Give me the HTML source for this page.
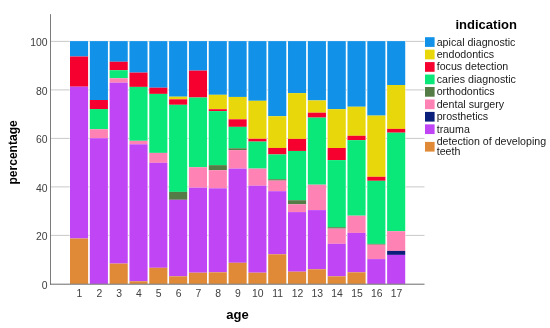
<!DOCTYPE html>
<html><head><meta charset="utf-8"><title>chart</title>
<style>
html,body{margin:0;padding:0;background:#fff;}
body{width:550px;height:328px;overflow:hidden;}
svg{display:block;font-family:"Liberation Sans",sans-serif;}
</style></head><body>
<svg width="550" height="328" viewBox="0 0 550 328">
<rect width="550" height="328" fill="#fff"/>
<line x1="50.5" x2="424.5" y1="41.40" y2="41.40" stroke="#c9c9c9" stroke-width="1"/>
<line x1="50.5" x2="424.5" y1="89.90" y2="89.90" stroke="#c9c9c9" stroke-width="1"/>
<line x1="50.5" x2="424.5" y1="138.40" y2="138.40" stroke="#c9c9c9" stroke-width="1"/>
<line x1="50.5" x2="424.5" y1="186.90" y2="186.90" stroke="#c9c9c9" stroke-width="1"/>
<line x1="50.5" x2="424.5" y1="235.40" y2="235.40" stroke="#c9c9c9" stroke-width="1"/>
<rect x="69.65" y="40.60" width="18.80" height="243.30" fill="#fff"/><rect x="70.00" y="41.10" width="18.1" height="15.40" fill="#1192E8"/><rect x="70.00" y="56.50" width="18.1" height="30.20" fill="#F5002F"/><rect x="70.00" y="86.70" width="18.1" height="151.80" fill="#C046F5"/><rect x="70.00" y="238.50" width="18.1" height="45.40" fill="#E08A38"/>
<rect x="89.47" y="40.60" width="18.80" height="243.30" fill="#fff"/><rect x="89.82" y="41.10" width="18.1" height="58.90" fill="#1192E8"/><rect x="89.82" y="100.00" width="18.1" height="9.05" fill="#F5002F"/><rect x="89.82" y="109.05" width="18.1" height="20.15" fill="#0AE87A"/><rect x="89.82" y="129.20" width="18.1" height="9.00" fill="#FF82B4"/><rect x="89.82" y="138.20" width="18.1" height="145.70" fill="#C046F5"/>
<rect x="109.29" y="40.60" width="18.80" height="243.30" fill="#fff"/><rect x="109.64" y="41.10" width="18.1" height="20.65" fill="#1192E8"/><rect x="109.64" y="61.75" width="18.1" height="8.45" fill="#F5002F"/><rect x="109.64" y="70.20" width="18.1" height="8.05" fill="#0AE87A"/><rect x="109.64" y="78.25" width="18.1" height="4.45" fill="#FF82B4"/><rect x="109.64" y="82.70" width="18.1" height="180.90" fill="#C046F5"/><rect x="109.64" y="263.60" width="18.1" height="20.30" fill="#E08A38"/>
<rect x="129.11" y="40.60" width="18.80" height="243.30" fill="#fff"/><rect x="129.46" y="41.10" width="18.1" height="31.50" fill="#1192E8"/><rect x="129.46" y="72.60" width="18.1" height="14.30" fill="#F5002F"/><rect x="129.46" y="86.90" width="18.1" height="53.90" fill="#0AE87A"/><rect x="129.46" y="140.80" width="18.1" height="3.50" fill="#FF82B4"/><rect x="129.46" y="144.30" width="18.1" height="137.00" fill="#C046F5"/><rect x="129.46" y="281.30" width="18.1" height="2.60" fill="#E08A38"/>
<rect x="148.93" y="40.60" width="18.80" height="243.30" fill="#fff"/><rect x="149.28" y="41.10" width="18.1" height="46.60" fill="#1192E8"/><rect x="149.28" y="87.70" width="18.1" height="6.20" fill="#F5002F"/><rect x="149.28" y="93.90" width="18.1" height="59.00" fill="#0AE87A"/><rect x="149.28" y="152.90" width="18.1" height="9.90" fill="#FF82B4"/><rect x="149.28" y="162.80" width="18.1" height="105.00" fill="#C046F5"/><rect x="149.28" y="267.80" width="18.1" height="16.10" fill="#E08A38"/>
<rect x="168.75" y="40.60" width="18.80" height="243.30" fill="#fff"/><rect x="169.10" y="41.10" width="18.1" height="55.60" fill="#1192E8"/><rect x="169.10" y="96.70" width="18.1" height="2.60" fill="#E8D70A"/><rect x="169.10" y="99.30" width="18.1" height="5.50" fill="#F5002F"/><rect x="169.10" y="104.80" width="18.1" height="87.10" fill="#0AE87A"/><rect x="169.10" y="191.90" width="18.1" height="7.90" fill="#557B47"/><rect x="169.10" y="199.80" width="18.1" height="76.50" fill="#C046F5"/><rect x="169.10" y="276.30" width="18.1" height="7.60" fill="#E08A38"/>
<rect x="188.57" y="40.60" width="18.80" height="243.30" fill="#fff"/><rect x="188.92" y="41.10" width="18.1" height="29.50" fill="#1192E8"/><rect x="188.92" y="70.60" width="18.1" height="26.90" fill="#F5002F"/><rect x="188.92" y="97.50" width="18.1" height="69.70" fill="#0AE87A"/><rect x="188.92" y="167.20" width="18.1" height="20.50" fill="#FF82B4"/><rect x="188.92" y="187.70" width="18.1" height="85.00" fill="#C046F5"/><rect x="188.92" y="272.70" width="18.1" height="11.20" fill="#E08A38"/>
<rect x="208.39" y="40.60" width="18.80" height="243.30" fill="#fff"/><rect x="208.74" y="41.10" width="18.1" height="53.70" fill="#1192E8"/><rect x="208.74" y="94.80" width="18.1" height="14.40" fill="#E8D70A"/><rect x="208.74" y="109.20" width="18.1" height="1.90" fill="#F5002F"/><rect x="208.74" y="111.10" width="18.1" height="54.05" fill="#0AE87A"/><rect x="208.74" y="165.15" width="18.1" height="5.05" fill="#557B47"/><rect x="208.74" y="170.20" width="18.1" height="18.10" fill="#FF82B4"/><rect x="208.74" y="188.30" width="18.1" height="84.00" fill="#C046F5"/><rect x="208.74" y="272.30" width="18.1" height="11.60" fill="#E08A38"/>
<rect x="228.21" y="40.60" width="18.80" height="243.30" fill="#fff"/><rect x="228.56" y="41.10" width="18.1" height="55.85" fill="#1192E8"/><rect x="228.56" y="96.95" width="18.1" height="22.35" fill="#E8D70A"/><rect x="228.56" y="119.30" width="18.1" height="7.55" fill="#F5002F"/><rect x="228.56" y="126.85" width="18.1" height="21.45" fill="#0AE87A"/><rect x="228.56" y="148.30" width="18.1" height="1.80" fill="#557B47"/><rect x="228.56" y="150.10" width="18.1" height="18.50" fill="#FF82B4"/><rect x="228.56" y="168.60" width="18.1" height="94.20" fill="#C046F5"/><rect x="228.56" y="262.80" width="18.1" height="21.10" fill="#E08A38"/>
<rect x="248.03" y="40.60" width="18.80" height="243.30" fill="#fff"/><rect x="248.38" y="41.10" width="18.1" height="59.70" fill="#1192E8"/><rect x="248.38" y="100.80" width="18.1" height="38.00" fill="#E8D70A"/><rect x="248.38" y="138.80" width="18.1" height="2.80" fill="#F5002F"/><rect x="248.38" y="141.60" width="18.1" height="27.00" fill="#0AE87A"/><rect x="248.38" y="168.60" width="18.1" height="17.10" fill="#FF82B4"/><rect x="248.38" y="185.70" width="18.1" height="87.00" fill="#C046F5"/><rect x="248.38" y="272.70" width="18.1" height="11.20" fill="#E08A38"/>
<rect x="267.85" y="40.60" width="18.80" height="243.30" fill="#fff"/><rect x="268.20" y="41.10" width="18.1" height="75.10" fill="#1192E8"/><rect x="268.20" y="116.20" width="18.1" height="31.75" fill="#E8D70A"/><rect x="268.20" y="147.95" width="18.1" height="6.50" fill="#F5002F"/><rect x="268.20" y="154.45" width="18.1" height="24.75" fill="#0AE87A"/><rect x="268.20" y="179.20" width="18.1" height="1.40" fill="#557B47"/><rect x="268.20" y="180.60" width="18.1" height="10.60" fill="#FF82B4"/><rect x="268.20" y="191.20" width="18.1" height="63.10" fill="#C046F5"/><rect x="268.20" y="254.30" width="18.1" height="29.60" fill="#E08A38"/>
<rect x="287.67" y="40.60" width="18.80" height="243.30" fill="#fff"/><rect x="288.02" y="41.10" width="18.1" height="52.00" fill="#1192E8"/><rect x="288.02" y="93.10" width="18.1" height="45.80" fill="#E8D70A"/><rect x="288.02" y="138.90" width="18.1" height="12.05" fill="#F5002F"/><rect x="288.02" y="150.95" width="18.1" height="49.25" fill="#0AE87A"/><rect x="288.02" y="200.20" width="18.1" height="4.10" fill="#557B47"/><rect x="288.02" y="204.30" width="18.1" height="7.80" fill="#FF82B4"/><rect x="288.02" y="212.10" width="18.1" height="59.60" fill="#C046F5"/><rect x="288.02" y="271.70" width="18.1" height="12.20" fill="#E08A38"/>
<rect x="307.49" y="40.60" width="18.80" height="243.30" fill="#fff"/><rect x="307.84" y="41.10" width="18.1" height="59.35" fill="#1192E8"/><rect x="307.84" y="100.45" width="18.1" height="12.25" fill="#E8D70A"/><rect x="307.84" y="112.70" width="18.1" height="4.90" fill="#F5002F"/><rect x="307.84" y="117.60" width="18.1" height="67.10" fill="#0AE87A"/><rect x="307.84" y="184.70" width="18.1" height="25.40" fill="#FF82B4"/><rect x="307.84" y="210.10" width="18.1" height="59.15" fill="#C046F5"/><rect x="307.84" y="269.25" width="18.1" height="14.65" fill="#E08A38"/>
<rect x="327.31" y="40.60" width="18.80" height="243.30" fill="#fff"/><rect x="327.66" y="41.10" width="18.1" height="68.05" fill="#1192E8"/><rect x="327.66" y="109.15" width="18.1" height="38.85" fill="#E8D70A"/><rect x="327.66" y="148.00" width="18.1" height="12.10" fill="#F5002F"/><rect x="327.66" y="160.10" width="18.1" height="67.10" fill="#0AE87A"/><rect x="327.66" y="227.20" width="18.1" height="1.40" fill="#557B47"/><rect x="327.66" y="228.60" width="18.1" height="15.20" fill="#FF82B4"/><rect x="327.66" y="243.80" width="18.1" height="32.50" fill="#C046F5"/><rect x="327.66" y="276.30" width="18.1" height="7.60" fill="#E08A38"/>
<rect x="347.13" y="40.60" width="18.80" height="243.30" fill="#fff"/><rect x="347.48" y="41.10" width="18.1" height="65.65" fill="#1192E8"/><rect x="347.48" y="106.75" width="18.1" height="29.05" fill="#E8D70A"/><rect x="347.48" y="135.80" width="18.1" height="4.35" fill="#F5002F"/><rect x="347.48" y="140.15" width="18.1" height="75.55" fill="#0AE87A"/><rect x="347.48" y="215.70" width="18.1" height="17.20" fill="#FF82B4"/><rect x="347.48" y="232.90" width="18.1" height="39.40" fill="#C046F5"/><rect x="347.48" y="272.30" width="18.1" height="11.60" fill="#E08A38"/>
<rect x="366.95" y="40.60" width="18.80" height="243.30" fill="#fff"/><rect x="367.30" y="41.10" width="18.1" height="74.50" fill="#1192E8"/><rect x="367.30" y="115.60" width="18.1" height="61.20" fill="#E8D70A"/><rect x="367.30" y="176.80" width="18.1" height="4.00" fill="#F5002F"/><rect x="367.30" y="180.80" width="18.1" height="63.10" fill="#0AE87A"/><rect x="367.30" y="243.90" width="18.1" height="0.80" fill="#557B47"/><rect x="367.30" y="244.70" width="18.1" height="14.40" fill="#FF82B4"/><rect x="367.30" y="259.10" width="18.1" height="24.80" fill="#C046F5"/>
<rect x="386.77" y="40.60" width="18.80" height="243.30" fill="#fff"/><rect x="387.12" y="41.10" width="18.1" height="43.90" fill="#1192E8"/><rect x="387.12" y="85.00" width="18.1" height="43.90" fill="#E8D70A"/><rect x="387.12" y="128.90" width="18.1" height="3.80" fill="#F5002F"/><rect x="387.12" y="132.70" width="18.1" height="98.50" fill="#0AE87A"/><rect x="387.12" y="231.20" width="18.1" height="19.70" fill="#FF82B4"/><rect x="387.12" y="250.90" width="18.1" height="4.00" fill="#0A1F7A"/><rect x="387.12" y="254.90" width="18.1" height="29.00" fill="#C046F5"/>
<line x1="50.5" x2="50.5" y1="14.2" y2="284.59999999999997" stroke="#7a7a7a" stroke-width="1"/>
<line x1="50.0" x2="424.5" y1="284.2" y2="284.2" stroke="#6a6a6a" stroke-width="1"/>
<g font-size="10.4" fill="#404040" text-anchor="end">
<text x="47.5" y="46.15">100</text><text x="47.5" y="94.65">80</text><text x="47.5" y="143.15">60</text><text x="47.5" y="191.65">40</text><text x="47.5" y="240.15">20</text><text x="47.5" y="288.65">0</text>
</g>
<g font-size="10.4" fill="#404040" text-anchor="middle">
<text x="79.45" y="297.25">1</text><text x="99.27" y="297.25">2</text><text x="119.09" y="297.25">3</text><text x="138.91" y="297.25">4</text><text x="158.73" y="297.25">5</text><text x="178.55" y="297.25">6</text><text x="198.37" y="297.25">7</text><text x="218.19" y="297.25">8</text><text x="238.01" y="297.25">9</text><text x="257.83" y="297.25">10</text><text x="277.65" y="297.25">11</text><text x="297.47" y="297.25">12</text><text x="317.29" y="297.25">13</text><text x="337.11" y="297.25">14</text><text x="356.93" y="297.25">15</text><text x="376.75" y="297.25">16</text><text x="396.57" y="297.25">17</text>
</g>
<text x="237.5" y="319.2" font-size="13" font-weight="bold" fill="#000" text-anchor="middle">age</text>
<text transform="translate(17.4,152.4) rotate(-90)" font-size="13" font-weight="bold" fill="#000" text-anchor="middle" textLength="64.3" lengthAdjust="spacingAndGlyphs">percentage</text>
<text x="486.2" y="29" font-size="13" font-weight="bold" fill="#000" text-anchor="middle">indication</text>
<g font-size="10.65" fill="#1a1a1a">
<rect x="425" y="37.20" width="9.6" height="9.7" fill="#1192E8"/><text x="436.7" y="45.50">apical diagnostic</text>
<rect x="425" y="49.65" width="9.6" height="9.7" fill="#E8D70A"/><text x="436.7" y="57.95">endodontics</text>
<rect x="425" y="62.10" width="9.6" height="9.7" fill="#F5002F"/><text x="436.7" y="70.40">focus detection</text>
<rect x="425" y="74.55" width="9.6" height="9.7" fill="#0AE87A"/><text x="436.7" y="82.85">caries diagnostic</text>
<rect x="425" y="87.00" width="9.6" height="9.7" fill="#557B47"/><text x="436.7" y="95.30">orthodontics</text>
<rect x="425" y="99.45" width="9.6" height="9.7" fill="#FF82B4"/><text x="436.7" y="107.75">dental surgery</text>
<rect x="425" y="111.90" width="9.6" height="9.7" fill="#0A1F7A"/><text x="436.7" y="120.20">prosthetics</text>
<rect x="425" y="124.35" width="9.6" height="9.7" fill="#C046F5"/><text x="436.7" y="132.65">trauma</text>
<rect x="425" y="141.9" width="9.6" height="9.7" fill="#E08A38"/><text x="436.7" y="144.6">detection of developing</text><text x="436.7" y="155.4">teeth</text>
</g>
</svg>
</body></html>
